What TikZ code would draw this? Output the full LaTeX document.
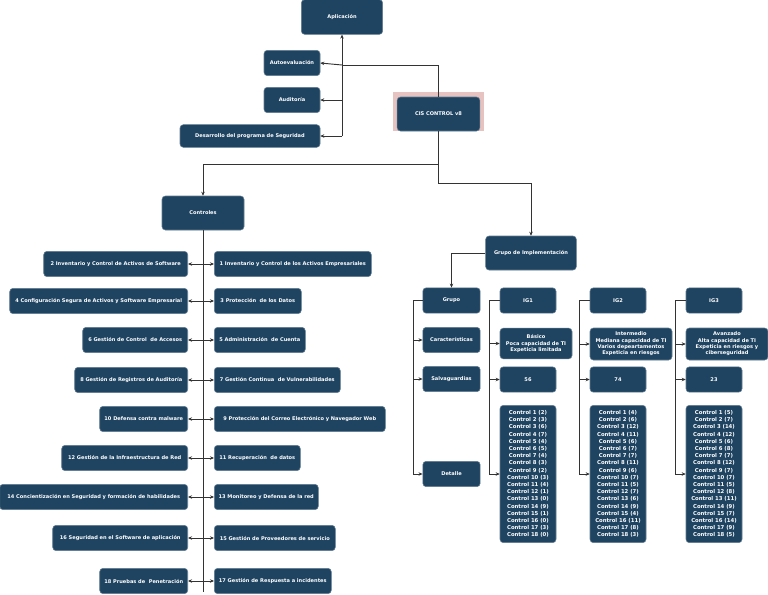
\documentclass[tikz,border=0pt]{standalone}
\usepackage{fontspec}
\setmainfont{DejaVu Sans}
\usetikzlibrary{arrows.meta}
\definecolor{navy}{HTML}{1F4462}
\definecolor{pinkbg}{HTML}{E6C3C1}
\definecolor{ln}{HTML}{333333}
\tikzset{
 box/.style={draw=navy!70!white,fill=navy,rounded corners=2.5pt,text=white,font=\bfseries\fontsize{3.8}{4.7}\selectfont,align=center,inner sep=1pt,minimum height=19pt},
 lst/.style={box,font=\bfseries\fontsize{4}{5.4}\selectfont,minimum width=42pt,minimum height=103pt},
 con/.style={draw=ln,line width=0.7pt},
 arr/.style={con,-{Stealth[length=3pt,width=2.6pt]}},
 darr/.style={con,{Stealth[length=3pt,width=2.6pt]}-{Stealth[length=3pt,width=2.6pt]}}
}
\begin{document}
\begin{tikzpicture}[x=0.75pt,y=-0.75pt]
\useasboundingbox (0,0) rectangle (768,594);
\fill[white] (0,0) rectangle (768,594);
% top
\node[box,minimum width=61pt,minimum height=26pt] (apl) at (342,17) {Aplicación};
\node[box,minimum width=42pt] (auto) at (292,63) {Autoevaluación};
\node[box,minimum width=42pt] (aud) at (292,100) {Auditoría};
\node[box,minimum width=105pt,minimum height=17pt] (des) at (250,136) {Desarrollo del programa de Seguridad};
\node[fill=pinkbg,minimum width=68pt,minimum height=29pt,inner sep=0pt] (cisbg) at (438.5,111.5) {};
\node[box,minimum width=62pt,minimum height=25.5pt] (cis) at (438.5,114) {CIS CONTROL v8};
\coordinate (j1) at (342,65);
\coordinate (j2) at (342,100);
\coordinate (j3) at (342,136);
\draw[con] (cis.north) |- (j1);
\draw[arr] (j1) -- (apl.south);
\draw[con] (j1) -- (j3);
\draw[arr] (j1) -- (auto.east);
\draw[arr] (j2) -- (aud.east);
\draw[arr] (j3) -- (des.east);
% controles
\node[box,minimum width=61.5pt,minimum height=25.5pt] (ctrl) at (203,213) {Controles};
\draw[arr] (cis.south) -- ++(0,33) -| (ctrl.north);
\node[box,minimum width=68pt,minimum height=25.5pt] (gi) at (531,253) {Grupo de Implementación};
\draw[arr] (cis.south) -- ++(0,52) -| (gi.north);
\coordinate (cend) at (203,592);
\draw[con] (ctrl.south) -- (cend);
\foreach \y/\lw/\lt/\rw/\rt [count=\i] in {
 264/144/{2 Inventario y Control de Activos de Software}/157/{1 Inventario y Control de los Activos Empresariales},
 301/178/{4 Configuración Segura de Activos y Software Empresarial}/87/{3 Protección \ de los Datos},
 340/105/{6 Gestión de Control \ de Accesos}/91/{5 Administración \ de Cuenta},
 380/113/{8 Gestión de Registros de Auditoría}/126/{7 Gestión Continua \ de Vulnerabilidades},
 419/88/{10 Defensa contra malware}/171/{9 Protección del Correo Electrónico y Navegador Web},
 458/126/{12 Gestión de la Infraestructura de Red}/86/{11 Recuperación \ de datos},
 497/188/{14 Concientización en Seguridad y formación de habilidades}/104/{13 Monitoreo y Defensa de la red},
 538/135/{16 Seguridad en el Software de aplicación}/121/{15 Gestión de Proveedores de servicio},
 581/88/{18 Pruebas de \ Penetración}/117/{17 Gestión de Respuesta a incidentes}}{
 \node[box,anchor=east,minimum width=\lw*0.75pt] (L\i) at (188,\y) {\lt};
 \node[box,anchor=west,minimum width=\rw*0.75pt] (R\i) at (214,\y) {\rt};
 \draw[darr] (L\i.east) -- (R\i.west);
}
% grupo column
\node[box,minimum width=43pt] (grupo) at (451.5,300.5) {Grupo};
\node[box,minimum width=43pt] (car) at (451.5,340) {Características};
\node[box,minimum width=43pt] (sal) at (451.5,379) {Salvaguardias};
\node[box,minimum width=43pt] (det) at (451.5,474) {Detalle};
\draw[arr] (gi.west) -| (grupo.north);
\foreach \t in {car,sal,det}{\draw[arr] (grupo.west) -- ++(-9,0) |- (\t.west);}
% IG columns
\node[box,minimum width=42pt] (ig1) at (528,300.5) {IG1};
\node[box,minimum width=54pt,minimum height=23pt] (c1) at (536,343.5) {Básico\\Poca capacidad de TI\\Expeticia limitada};
\node[box,minimum width=42pt] (s1) at (528,379.5) {56};
\node[lst] (d1) at (528,474) {Control 1 (2)\\Control 2 (3)\\Control 3 (6)\\Control 4 (7)\\Control 5 (4)\\Control 6 (5)\\Control 7 (4)\\Control 8 (3)\\Control 9 (2)\\Control 10 (3)\\Control 11 (4)\\Control 12 (1)\\Control 13 (0)\\Control 14 (9)\\Control 15 (1)\\Control 16 (0)\\Control 17 (3)\\Control 18 (0)};
\node[box,minimum width=42pt] (ig2) at (618,300.5) {IG2};
\node[box,minimum width=61.5pt,minimum height=24pt] (c2) at (631,344) {Intermedio\\Mediana capacidad de TI\\Varios depeartamentos\\Expeticia en riesgos};
\node[box,minimum width=42pt] (s2) at (618,379.5) {74};
\node[lst] (d2) at (618,474) {Control 1 (4)\\Control 2 (6)\\Control 3 (12)\\Control 4 (11)\\Control 5 (6)\\Control 6 (7)\\Control 7 (7)\\Control 8 (11)\\Control 9 (6)\\Control 10 (7)\\Control 11 (5)\\Control 12 (7)\\Control 13 (6)\\Control 14 (9)\\Control 15 (4)\\Control 16 (11)\\Control 17 (8)\\Control 18 (3)};
\node[box,minimum width=42pt] (ig3) at (714,300.5) {IG3};
\node[box,minimum width=61.5pt,minimum height=24pt] (c3) at (727,344) {Avanzado\\Alta capacidad de TI\\Expeticia en riesgos y\\ciberseguridad};
\node[box,minimum width=42pt] (s3) at (714,379.5) {23};
\node[lst] (d3) at (714,474) {Control 1 (5)\\Control 2 (7)\\Control 3 (14)\\Control 4 (12)\\Control 5 (6)\\Control 6 (8)\\Control 7 (7)\\Control 8 (12)\\Control 9 (7)\\Control 10 (7)\\Control 11 (5)\\Control 12 (8)\\Control 13 (11)\\Control 14 (9)\\Control 15 (7)\\Control 16 (14)\\Control 17 (9)\\Control 18 (5)};
\foreach \k in {1,2,3}{
 \foreach \t in {c,s,d}{\draw[arr] (ig\k.west) -- ++(-10,0) |- (\t\k.west);}
}
\end{tikzpicture}
\end{document}
